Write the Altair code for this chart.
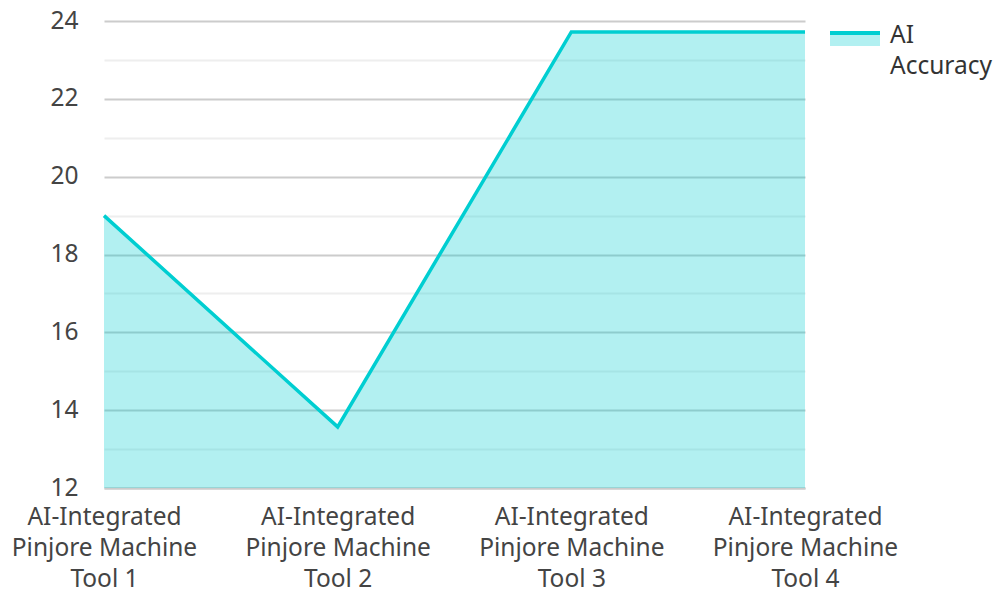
import altair as alt
import pandas as pd

categories = [
    "AI-Integrated Pinjore Machine Tool 1",
    "AI-Integrated Pinjore Machine Tool 2",
    "AI-Integrated Pinjore Machine Tool 3",
    "AI-Integrated Pinjore Machine Tool 4",
]
accuracy = [19.0, 13.57, 23.72, 23.72]
y_ticks = list(range(12, 25))
series_name = "AI Accuracy"

LINE = "#00CED1"
FONT = "Noto Sans"
FS = 24.5

df = pd.DataFrame({"tool": categories, "value": accuracy})

x_enc = alt.X(
    "tool:N",
    sort=categories,
    scale=alt.Scale(type="point", padding=0),
    axis=alt.Axis(
        title=None,
        labelAngle=0,
        labelExpr="['AI-Integrated', 'Pinjore Machine', replace(datum.label, 'AI-Integrated Pinjore Machine ', '')]",
        labelFont=FONT,
        labelFontSize=FS,
        labelColor="#444444",
        labelLineHeight=31,
        labelPadding=17,
        ticks=False,
        grid=False,
        domain=True,
        domainColor="#cccccc",
        domainWidth=2,
        labelLimit=300,
    ),
)
y_enc = alt.Y(
    "value:Q",
    scale=alt.Scale(domain=[12, 24], nice=False, zero=False),
    axis=alt.Axis(
        title=None,
        values=y_ticks,
        labelExpr="datum.value % 2 == 0 ? datum.label : ''",
        labelFont=FONT,
        labelFontSize=FS,
        labelColor="#444444",
        labelPadding=26,
        ticks=False,
        domain=False,
        gridColor={"condition": {"test": "datum.value % 2 == 0", "value": "#cccccc"}, "value": "#eeeeee"},
        gridWidth=2,
    ),
)

base = alt.Chart(df)
area = base.mark_area(color=LINE, opacity=0.3).encode(x=x_enc, y=y_enc, y2=alt.datum(12))
line = base.mark_line(color=LINE, strokeWidth=3.5, strokeJoin="miter").encode(x=x_enc, y=y_enc)

leg_df = pd.DataFrame({"name": [series_name]})
leg_rule = alt.Chart(leg_df).mark_rule(color=LINE, strokeWidth=4).encode(
    x=alt.value(726), x2=alt.value(776), y=alt.value(12)
)
leg_rect = alt.Chart(leg_df).mark_rect(color=LINE, opacity=0.3).encode(
    x=alt.value(726), x2=alt.value(776), y=alt.value(14), y2=alt.value(25)
)
leg_text = alt.Chart(leg_df).mark_text(
    align="left", baseline="top", font=FONT, fontSize=FS, color="#333333", lineHeight=31, dy=-10
).encode(
    x=alt.value(786), y=alt.value(13),
    text="lines:N",
).transform_calculate(lines="split(datum.name, ' ')")

chart = alt.layer(area, line, leg_rule, leg_rect, leg_text).properties(
    width=701,
    height=467,
    padding={"left": 104, "top": 21, "right": 190, "bottom": 104},
    autosize=alt.AutoSizeParams(type="none"),
    background="white",
).configure_view(stroke=None)

chart.save("out.html", embed_options={"renderer": "svg", "actions": False})
